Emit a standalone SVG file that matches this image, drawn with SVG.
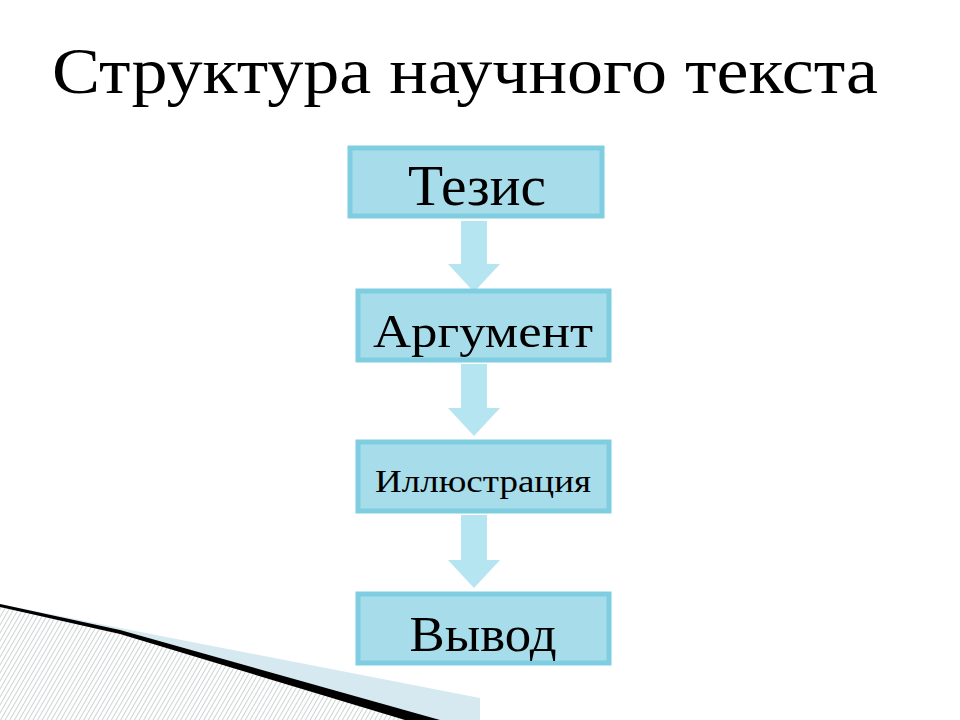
<svg xmlns="http://www.w3.org/2000/svg" width="960" height="720" viewBox="0 0 960 720">
<defs>
<style>
.box{fill:#a7dcea;stroke:#7fcde0;stroke-width:5}
.t{font-family:"Liberation Serif",serif;fill:#000;text-anchor:middle}
.arr{fill:#b5e5f1}
</style>
<pattern id="h" width="4" height="4" patternUnits="userSpaceOnUse" patternTransform="rotate(30)">
<rect width="4" height="4" fill="#fff"/><line x1="0" y1="0" x2="0" y2="4" stroke="#9aa" stroke-width="1"/>
</pattern>
</defs>
<rect width="960" height="720" fill="#fff"/>
<g id="decor">
<polygon points="0,604 120,628 480,698 480,720 0,720" fill="#d6e9f0"/>
<polygon points="0,604 120,630 440,720 0,720" fill="#000"/>
<polygon points="0,607 120,634 405,720 0,720" fill="url(#h)"/>
</g>
<text class="t" x="465" y="93" font-size="66" textLength="826" lengthAdjust="spacingAndGlyphs">Структура научного текста</text>
<g id="connectors">
<polygon class="arr" points="461,221 487,221 487,264 500,264 474,292 448,264 461,264"/>
<polygon class="arr" points="461,364 487,364 487,408 500,408 474,436 448,408 461,408"/>
<polygon class="arr" points="461,515 487,515 487,560 500,560 474,588 448,560 461,560"/>
</g>
<g id="n1"><rect class="box" x="350" y="148" width="252" height="68"/><text class="t" x="477" y="205" font-size="56" textLength="138" lengthAdjust="spacingAndGlyphs">Тезис</text></g>
<g id="n2"><rect class="box" x="358" y="291" width="251" height="69"/><text class="t" x="483" y="347" font-size="46" textLength="220" lengthAdjust="spacingAndGlyphs">Аргумент</text></g>
<g id="n3"><rect class="box" x="358" y="442" width="251" height="69"/><text class="t" x="483" y="492" font-size="32" textLength="216" lengthAdjust="spacingAndGlyphs">Иллюстрация</text></g>
<g id="n4"><rect class="box" x="358" y="594" width="251" height="69"/><text class="t" x="483" y="651" font-size="50" textLength="147" lengthAdjust="spacingAndGlyphs">Вывод</text></g>
</svg>
